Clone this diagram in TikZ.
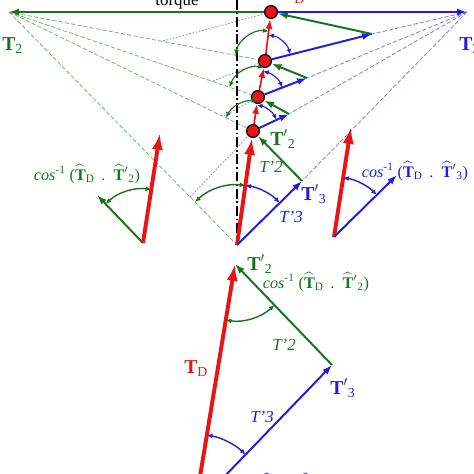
\documentclass[tikz,border=0pt]{standalone}
\usepackage{amsmath}
\usepackage{fontspec}
\setmainfont{Liberation Serif}
\usetikzlibrary{arrows.meta,calc}

\definecolor{tred}{RGB}{235,20,20}
\definecolor{tgreen}{RGB}{25,115,30}
\definecolor{tblue}{RGB}{30,30,220}
\definecolor{tviolet}{RGB}{150,135,215}

\newcommand\hatT{$\widehat{\text{\textbf{T}}}$}
\newcommand\cosT[1]{\textit{cos}\textsuperscript{-1} (\hatT\textsubscript{D} \,.\, \hatT$'$\textsubscript{#1})}
\newcommand\angarc[5]{%
  \draw[#5] let \p1=($(#2)-(#1)$), \p2=($(#3)-(#1)$),
    \n1={atan2(\y1,\x1)}, \n2={atan2(\y2,\x2)} in
    ($(#1)+(\n1:#4)$) arc[start angle=\n1, end angle=\n2, radius=#4];}

\begin{document}
\begin{tikzpicture}[x=0.025cm,y=-0.025cm,
    vec/.style={line width=1.4pt,-{Latex[length=7pt,width=5pt]}},
    bigvec/.style={line width=2.8pt,-{Latex[length=12pt,width=8pt]}},
    gline/.style={tgreen!55!white,dash pattern=on 3pt off 1.5pt,line width=0.6pt},
    bline/.style={tblue!55!white,dash pattern=on 3pt off 1.5pt,line width=0.6pt},
    pline/.style={tviolet,dash pattern=on 1.2pt off 1.2pt,line width=0.6pt},
    axisline/.style={black,line width=1.2pt,dash pattern=on 7pt off 2pt on 1.2pt off 2pt},
    twoway/.style={line width=1pt,{Latex[length=4pt,width=3.5pt]}-{Latex[length=4pt,width=3.5pt]}},
    ball/.style={circle,draw=black,fill=tred,line width=0.9pt,minimum size=0.32cm,inner sep=0pt},
    lbl/.style={inner sep=0pt,font=\fontsize{14}{16}\selectfont},
    ital/.style={inner sep=0pt,font=\fontsize{12}{14}\selectfont\itshape},
    cosl/.style={inner sep=0pt,font=\fontsize{11.5}{13}\selectfont}]
  \useasboundingbox (0,0) rectangle (474,474);
  \clip (0,0) rectangle (474,474);

  % construction points
  \coordinate (T2) at (9,12);
  \coordinate (T3) at (467,12);
  \coordinate (O) at (237,245);
  \coordinate (Otop) at (237,0);
  \coordinate (Q0) at (302,181);
  \coordinate (Q1) at (289,114);
  \coordinate (Q2) at (307,78);
  \coordinate (Q3) at (372,34);
  \coordinate (R0) at (190,197);
  \coordinate (R1) at (224,116);
  \coordinate (R2) at (213,81);
  \coordinate (R3) at (163,41);
  \node[ball] (C1) at (253,131) {};
  \node[ball] (C2) at (258,97) {};
  \node[ball] (C3) at (265,61) {};
  \node[ball] (C4) at (271,12) {};

  % guide lines
  \foreach \p in {O,C1,C2,C3} \draw[gline] (T2) -- (\p);
  \foreach \p in {Q0,Q1,Q2,Q3} \draw[bline] (T3) -- (\p);
  \draw[pline] (R0) -- (C1) (R1) -- (C2) (R2) -- (C3) (R3) -- (C4);
  \draw[axisline] (Otop) -- (O);

  % iteration
  \draw[bigvec,tred] (O) -- (C1);
  \draw[vec,tred,line width=1.2pt] (C1) -- (C2);
  \draw[vec,tred,line width=1.2pt] (C2) -- (C3);
  \draw[vec,tred,line width=1.2pt] (C3) -- (C4);
  \foreach \a/\q/\b in {O/Q0/C1,C1/Q1/C2,C2/Q2/C3,C3/Q3/C4} {
    \draw[vec,tblue] (\a) -- (\q);
    \draw[vec,tgreen] (\q) -- (\b);
  }
  \draw[vec,tgreen] (C4) -- (T2);
  \draw[vec,tblue] (C4) -- (T3);
  \angarc{O}{T2}{C1}{1.5cm}{twoway,tgreen}
  \angarc{O}{C1}{Q0}{1.5cm}{twoway,tblue}
  \foreach \a/\b/\q in {C1/C2/Q1,C2/C3/Q2,C3/C4/Q3} {
    \angarc{\a}{T2}{\b}{0.75cm}{twoway,tgreen,line width=0.8pt}
    \angarc{\a}{\b}{\q}{0.65cm}{twoway,tblue,line width=0.8pt}
  }

  % side sketches
  \coordinate (L0) at (143,243);
  \coordinate (Lr) at (160,133);
  \coordinate (Lg) at (97,195);
  \draw[bigvec,tred] (L0) -- (Lr);
  \draw[vec,tgreen] (L0) -- (Lg);
  \angarc{L0}{Lg}{Lr}{1.35cm}{twoway,tgreen}
  \coordinate (M0) at (334,237);
  \coordinate (Mr) at (351,127);
  \coordinate (Mb) at (397,175);
  \draw[bigvec,tred] (M0) -- (Mr);
  \draw[vec,tblue] (M0) -- (Mb);
  \angarc{M0}{Mr}{Mb}{1.5cm}{twoway,tblue}

  % lower triangle
  \coordinate (B0) at (195,507);
  \coordinate (Bt) at (235,264);
  \coordinate (Bb) at (332,365);
  \draw[bigvec,tred] (B0) -- (Bt);
  \draw[vec,tblue] (B0) -- (Bb);
  \draw[vec,tgreen] (Bb) -- (Bt);
  \angarc{Bt}{B0}{Bb}{1.42cm}{twoway,tgreen}
  \angarc{B0}{Bt}{Bb}{1.82cm}{twoway,tblue}

  % labels
  \node[inner sep=0pt,font=\fontsize{12}{14}\selectfont,anchor=base] (torque) at (177,5) {torque};
  \node[lbl,tred,anchor=base west] (lTDtop) at (281,0) {\textbf{T}\textsubscript{D}};
  \node[lbl,tgreen,anchor=base west] (lT2) at (2,50) {\textbf{T}\textsubscript{2}};
  \node[lbl,tblue,anchor=base west] (lT3) at (459,50) {\textbf{T}\textsubscript{3}};
  \node[lbl,tgreen,anchor=base west] (lTp2) at (270,145) {\textbf{T}$'$\textsubscript{2}};
  \node[ital,tgreen,anchor=base west] (lt2) at (259,172) {T'2};
  \node[lbl,tblue,anchor=base west] (lTp3) at (301,200) {\textbf{T}$'$\textsubscript{3}};
  \node[ital,tblue,anchor=base west] (lt3) at (279,222) {T'3};
  \node[cosl,tgreen,anchor=base] (cosL) at (87,180) {\cosT{2}};
  \node[cosl,tblue,anchor=base] (cosR) at (415,177) {\cosT{3}};
  \node[lbl,tgreen,anchor=base west] (lTp2b) at (247,270) {\textbf{T}$'$\textsubscript{2}};
  \node[cosl,tgreen,anchor=base] (cosB2) at (316,288) {\cosT{2}};
  \node[ital,tgreen,anchor=base west] (lt2b) at (272,350) {T'2};
  \node[lbl,tred,anchor=base west] (lTD) at (184,373) {\textbf{T}\textsubscript{D}};
  \node[lbl,tblue,anchor=base west] (lTp3b) at (330,394) {\textbf{T}$'$\textsubscript{3}};
  \node[ital,tblue,anchor=base west] (lt3b) at (250,422) {T'3};
  \node[cosl,tblue,anchor=base] (cosB3) at (274,489) {\cosT{3}};
\end{tikzpicture}
\end{document}
